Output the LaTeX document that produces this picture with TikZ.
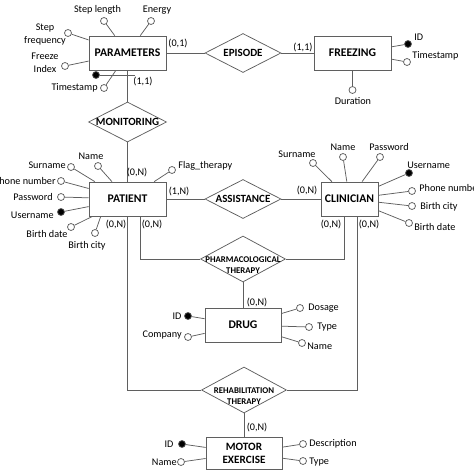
\documentclass[tikz,border=0pt]{standalone}
\usepackage{fontspec}
\setmainfont{Carlito}
\usetikzlibrary{shapes.geometric}
\definecolor{linec}{RGB}{95,95,95}
\begin{document}
\begin{tikzpicture}[x=1pt,y=-1pt,line width=0.75pt,color=linec,
    every node/.append style={text=black},
    entity/.style={draw,rectangle,minimum width=77pt,minimum height=34pt,
      font=\fontsize{11.7}{13}\selectfont\bfseries},
    rel/.style={draw,diamond,inner sep=0pt,minimum width=76pt,minimum height=39pt,
      label={[font=\fontsize{11}{12}\selectfont\bfseries]center:#1}},
    relsmall/.style={draw,diamond,inner sep=0pt,minimum width=85pt,minimum height=46pt,
      label={[align=center,yshift=-6pt,font=\fontsize{8.8}{10.5}\selectfont\bfseries]center:#1}},
    attr/.style={draw,circle,fill=white,inner sep=0pt,minimum size=7pt},
    key/.style={attr,fill=black},
    lbl/.style={inner sep=0pt,font=\fontsize{10.2}{13}\selectfont}]
  \useasboundingbox (0,0) rectangle (474,474);
  \clip (0,0) rectangle (474,474);

  % entities
  \node[entity] (param) at (127.5,53) {PARAMETERS};
  \node[entity] (freez) at (352.5,53) {FREEZING};
  \node[entity] (patient) at (127.5,199) {PATIENT};
  \node[entity,minimum width=57pt] (clin) at (349.5,199) {CLINICIAN};
  \node[entity,minimum width=76pt] (drug) at (243,325) {DRUG};
  \node[entity,minimum width=76pt,minimum height=32pt,align=center,
    font=\fontsize{11.2}{13}\selectfont\bfseries] (motor) at (244,453) {MOTOR\\EXERCISE};

  % relationships
  \node[rel=EPISODE] (episode) at (243,53) {};
  \node[rel=MONITORING,minimum width=78pt,minimum height=40pt] (monit) at (127.5,122) {};
  \node[rel=ASSISTANCE] (assist) at (243,199) {};
  \node[relsmall={PHARMACOLOGICAL\\THERAPY}] (pharm) at (243,259) {};
  \node[relsmall={REHABILITATION\\THERAPY}] (rehab) at (244,390) {};

  % links
  \draw (param) -- (episode);
  \draw (episode) -- (freez);
  \draw (param) -- (monit);
  \draw (monit) -- (patient);
  \draw (patient) -- (assist);
  \draw (assist) -- (clin);
  \draw ([xshift=12.5pt]patient.south) |- (pharm.west);
  \draw (patient.south) |- (rehab.west);
  \draw ([xshift=-5.5pt]clin.south) |- (pharm.east);
  \draw ([xshift=7.5pt]clin.south) |- (rehab.east);
  \draw (pharm) -- (drug);
  \draw (rehab) -- (motor);

  % cardinalities
  \node[lbl] (c01) at (178,43) {(0,1)};
  \node[lbl] (c11a) at (143,81) {(1,1)};
  \node[lbl] (c11b) at (303,47) {(1,1)};
  \node[lbl] (c0na) at (137,172) {(0,N)};
  \node[lbl] (c1n) at (179,191) {(1,N)};
  \node[lbl] (c0nb) at (116,224) {(0,N)};
  \node[lbl] (c0nc) at (152,224) {(0,N)};
  \node[lbl] (c0nd) at (307,190) {(0,N)};
  \node[lbl] (c0ne) at (331,224) {(0,N)};
  \node[lbl] (c0nf) at (369,224) {(0,N)};
  \node[lbl] (c0ng) at (257,302) {(0,N)};
  \node[lbl] (c0nh) at (257,427) {(0,N)};

  % parameters attributes
  \node[attr] (pstep) at (104,21) {};
  \node[lbl] (tstep) at (97.5,10) {Step length};
  \node[attr] (pen) at (151,21) {};
  \node[lbl] (ten) at (157,10) {Energy};
  \node[attr] (pfreq) at (68,33) {};
  \node[lbl,align=center] (tfreq) at (45,34.5) {Step\\frequency};
  \node[attr] (pfi) at (65,66) {};
  \node[lbl,align=center] (tfi) at (45,63) {Freeze\\Index};
  \node[attr] (pts) at (104,88) {};
  \node[lbl,anchor=east] (tts) at (98,88) {Timestamp};
  \node[key] (pkey) at (96,75) {};
  \coordinate (pkend) at (135,75);
  \draw (pstep) -- (param);
  \draw (pen) -- (param);
  \draw (pfreq) -- (param);
  \draw (pfi) -- (param);
  \draw (pts) -- (param);
  \draw (pkey) -- (pkend);

  % freezing attributes
  \node[key] (fid) at (408,44) {};
  \node[lbl,anchor=west] (tfid) at (414,37) {ID};
  \node[attr] (fts) at (407,62) {};
  \node[lbl,anchor=west] (tfts) at (412,56) {Timestamp};
  \node[attr] (fdur) at (352.5,90) {};
  \node[lbl] (tfdur) at (353,101) {Duration};
  \draw (fid) -- (freez.9);
  \draw (fts) -- (freez.351);
  \draw (fdur) -- (freez);

  % patient attributes
  \node[attr] (psur) at (71,167) {};
  \node[lbl,anchor=east] (tpsur) at (66,165) {Surname};
  \node[attr] (pname) at (98,166) {};
  \node[lbl] (tpname) at (91,156) {Name};
  \node[attr] (pphone) at (61,181) {};
  \node[lbl,anchor=east] (tpphone) at (56,181) {Phone number};
  \node[attr] (ppwd) at (61,197) {};
  \node[lbl,anchor=east] (tppwd) at (53,197) {Password};
  \node[key] (puser) at (61,212) {};
  \node[lbl,anchor=east] (tpuser) at (54,215) {Username};
  \node[attr] (pbd) at (71,227) {};
  \node[lbl] (tpbd) at (47,234) {Birth date};
  \node[attr] (pbc) at (95,233) {};
  \node[lbl] (tpbc) at (87,246) {Birth city};
  \node[attr] (pflag) at (172,170) {};
  \node[lbl,anchor=west] (tpflag) at (178,166) {Flag\_therapy};
  \draw (psur) -- (patient.152);
  \draw (pname) -- (patient);
  \draw (pphone) -- (patient);
  \draw (ppwd) -- (patient);
  \draw (puser) -- (patient);
  \draw (pbd) -- (patient);
  \draw (pbc) -- (patient.213);
  \draw (pflag) -- (patient);

  % clinician attributes
  \node[attr] (csur) at (313,163) {};
  \node[lbl] (tcsur) at (297,154) {Surname};
  \node[attr] (cname) at (343,157) {};
  \node[lbl] (tcname) at (343,147) {Name};
  \node[attr] (cpwd) at (380,157) {};
  \node[lbl] (tcpwd) at (389,147) {Password};
  \node[key] (cuser) at (409,173) {};
  \node[lbl,anchor=west] (tcuser) at (407,165) {Username};
  \node[attr] (cphone) at (412,191) {};
  \node[lbl,anchor=west] (tcphone) at (419,188) {Phone number};
  \node[attr] (cbc) at (412,206) {};
  \node[lbl,anchor=west] (tcbc) at (420,207) {Birth city};
  \node[attr] (cbd) at (409,223) {};
  \node[lbl,anchor=west] (tcbd) at (414,227) {Birth date};
  \draw (csur) -- (clin);
  \draw (cname) -- (clin);
  \draw (cpwd) -- (clin);
  \draw (cuser) -- (clin);
  \draw (cphone) -- (clin);
  \draw (cbc) -- (clin);
  \draw (cbd) -- (clin);

  % drug attributes
  \node[key] (did) at (188,316) {};
  \node[lbl] (tdid) at (177,316) {ID};
  \node[attr] (dcomp) at (188,337) {};
  \node[lbl,anchor=east] (tdcomp) at (182,335) {Company};
  \node[attr] (ddos) at (300,308) {};
  \node[lbl,anchor=west] (tddos) at (308,308) {Dosage};
  \node[attr] (dtype) at (309,327) {};
  \node[lbl,anchor=west] (tdtype) at (317,327) {Type};
  \node[attr] (dname) at (302,343) {};
  \node[lbl,anchor=west] (tdname) at (307,346) {Name};
  \draw (did) -- (drug);
  \draw (dcomp) -- (drug);
  \draw (ddos) -- (drug);
  \draw (dtype) -- (drug);
  \draw (dname) -- (drug);

  % motor exercise attributes
  \node[key] (mid) at (182,444) {};
  \node[lbl] (tmid) at (169,444) {ID};
  \node[attr] (mname) at (181,462) {};
  \node[lbl,anchor=east] (tmname) at (177,462) {Name};
  \node[attr] (mdesc) at (303,444) {};
  \node[lbl,anchor=west] (tmdesc) at (309,444) {Description};
  \node[attr] (mtype) at (303,461) {};
  \node[lbl,anchor=west] (tmtype) at (309,462) {Type};
  \draw (mid) -- (motor);
  \draw (mname) -- (motor);
  \draw (mdesc) -- (motor);
  \draw (mtype) -- (motor);
\end{tikzpicture}
\end{document}
